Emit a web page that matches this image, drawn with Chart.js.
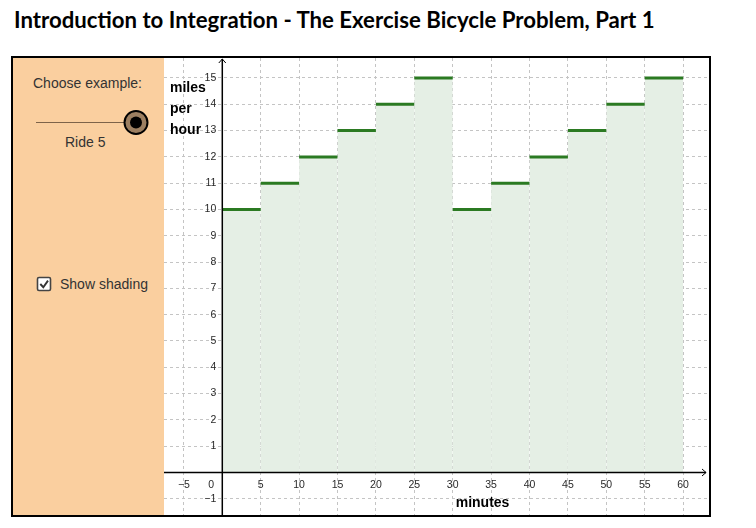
<!DOCTYPE html>
<html><head><meta charset="utf-8">
<script src="https://cdn.jsdelivr.net/npm/chart.js@4"></script>
<style>
html,body{margin:0;padding:0;background:#fff;}
body{width:756px;height:528px;position:relative;overflow:hidden;font-family:"Liberation Sans",Arial,sans-serif;}
#title{position:absolute;left:14px;top:7px;font-family:Lato,"Open Sans",sans-serif;font-weight:bold;font-size:20px;color:#000;white-space:nowrap;line-height:26px;}
#panel{position:absolute;left:13px;top:58px;width:151px;height:457px;background:#facf9f;}
#frame{position:absolute;left:11px;top:56px;width:700px;height:461px;box-sizing:border-box;border:2px solid #000;z-index:5;pointer-events:none;}
#chartwrap{position:absolute;left:164px;top:58px;width:545px;height:457px;}
.ptxt{position:absolute;font-size:14px;color:#333;white-space:nowrap;}
</style>
</head><body>
<div id="title">Introduction to Integration - The Exercise Bicycle Problem, Part 1</div>
<div id="panel"></div>
<div class="ptxt" style="left:33px;top:75px;">Choose example:</div>
<svg style="position:absolute;left:0;top:0" width="170" height="300">
  <line x1="36" y1="122.5" x2="125" y2="122.5" stroke="#7d6349" stroke-width="1"/>
  <circle cx="136" cy="122.5" r="11.5" fill="#9c7f61" stroke="#000" stroke-width="2"/>
  <circle cx="136" cy="122.5" r="6" fill="#000"/>
  <rect x="37.5" y="277.5" width="13" height="13" rx="1.5" fill="#fff" stroke="#444" stroke-width="1.6"/>
  <path d="M40.3 284 L43.3 287.2 L48 280.6" fill="none" stroke="#333" stroke-width="1.9"/>
</svg>
<div class="ptxt" style="left:65px;top:134px;">Ride 5</div>
<div class="ptxt" style="left:60px;top:276px;">Show shading</div>
<div id="chartwrap"><canvas id="c" width="545" height="457"></canvas></div>
<div id="frame"></div>
<script>
// ---- data ----
const intervalStart = [0, 5, 10, 15, 20, 25, 30, 35, 40, 45, 50, 55];
const intervalEnd   = [5, 10, 15, 20, 25, 30, 35, 40, 45, 50, 55, 60];
const speedMph      = [10, 11, 12, 13, 14, 15, 10, 11, 12, 13, 14, 15];
const xTickLabels   = [-5, 5, 10, 15, 20, 25, 30, 35, 40, 45, 50, 55, 60];
const yTickLabels   = [-1, 1, 2, 3, 4, 5, 6, 7, 8, 9, 10, 11, 12, 13, 14, 15];
const xGridValues   = [-5, 0, 5, 10, 15, 20, 25, 30, 35, 40, 45, 50, 55, 60];
const yGridValues   = [-1, 0, 1, 2, 3, 4, 5, 6, 7, 8, 9, 10, 11, 12, 13, 14, 15];
const xAxisTitle = "minutes";
const yAxisTitle = ["miles", "per", "hour"];

// fit title width
(function(){
  const t = document.getElementById('title');
  const target = 641;
  const w = t.getBoundingClientRect().width;
  t.style.fontSize = (20 * target / w).toFixed(2) + 'px';
})();

const segData = [];
intervalStart.forEach((s, i) => {
  segData.push({x: s, y: speedMph[i]});
  segData.push({x: intervalEnd[i], y: speedMph[i]});
  segData.push({x: intervalEnd[i], y: null});
});

const minus = v => (v < 0 ? '\u2212' + Math.abs(v) : String(v));

const overlay = {
  id: 'overlay',
  afterDatasetsDraw(chart) {
    const {ctx, scales: {x, y}, chartArea: a} = chart;
    const x0 = x.getPixelForValue(0), y0 = y.getPixelForValue(0);
    ctx.save();
    ctx.strokeStyle = '#000';
    ctx.lineWidth = 1.5;
    ctx.beginPath();
    ctx.moveTo(x0, a.bottom); ctx.lineTo(x0, a.top + 1);
    ctx.moveTo(a.left, y0); ctx.lineTo(a.right - 3, y0);
    ctx.stroke();
    ctx.lineWidth = 1;
    ctx.beginPath();
    ctx.moveTo(x0 - 3.5, a.top + 5); ctx.lineTo(x0, a.top + 1); ctx.lineTo(x0 + 3.5, a.top + 5);
    ctx.moveTo(a.right - 7, y0 - 3.5); ctx.lineTo(a.right - 3, y0); ctx.lineTo(a.right - 7, y0 + 3.5);
    ctx.stroke();

    ctx.fillStyle = '#2a2a2a';
    ctx.font = '10.5px "Liberation Sans", Arial, sans-serif';
    ctx.textAlign = 'center';
    ctx.textBaseline = 'middle';
    xTickLabels.forEach(v => ctx.fillText(minus(v), x.getPixelForValue(v), y0 + 13));
    ctx.fillText('0', x0 - 11, y0 + 13);
    ctx.textAlign = 'right';
    yTickLabels.forEach(v => ctx.fillText(minus(v), x0 - 6, y.getPixelForValue(v)));

    ctx.fillStyle = '#000';
    ctx.font = 'bold 14px "Liberation Sans", Arial, sans-serif';
    ctx.textAlign = 'left';
    ctx.textBaseline = 'alphabetic';
    yAxisTitle.forEach((t, i) => ctx.fillText(t, a.left + 6, a.top + 34 + i * 21));
    ctx.fillText(xAxisTitle, x.getPixelForValue(30) + 3, a.bottom - 8);
    ctx.restore();
  }
};

new Chart(document.getElementById('c'), {
  type: 'scatter',
  data: {
    datasets: [{
      data: segData,
      showLine: true,
      spanGaps: false,
      borderColor: '#2b7a22',
      borderWidth: 3,
      borderCapStyle: 'butt',
      backgroundColor: '#e5efe5',
      fill: 'origin',
      pointRadius: 0,
      tension: 0
    }]
  },
  options: {
    responsive: false,
    animation: false,
    devicePixelRatio: 1,
    layout: {padding: 0},
    plugins: {legend: {display: false}, tooltip: {enabled: false}, title: {display: false}},
    scales: {
      x: {
        type: 'linear', min: -7.59, max: 63.37,
        afterBuildTicks: s => { s.ticks = xGridValues.map(v => ({value: v})); },
        ticks: {display: false},
        grid: {drawTicks: false, color: '#c4c4c4', lineWidth: 1},
        border: {display: false, dash: [3, 3]}
      },
      y: {
        type: 'linear', min: -1.616, max: 15.76,
        afterBuildTicks: s => { s.ticks = yGridValues.map(v => ({value: v})); },
        ticks: {display: false},
        grid: {drawTicks: false, color: '#c4c4c4', lineWidth: 1},
        border: {display: false, dash: [3, 3]}
      }
    }
  },
  plugins: [overlay]
});
</script>
</body></html>
